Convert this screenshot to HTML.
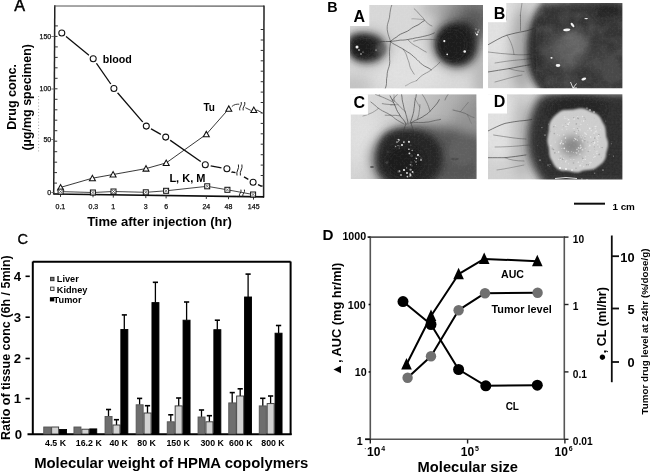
<!DOCTYPE html>
<html><head><meta charset="utf-8"><style>
html,body{margin:0;padding:0;background:#fff;}
svg{display:block;font-family:"Liberation Sans", Arial, sans-serif;}
</style></head><body>
<svg width="650" height="472" viewBox="0 0 650 472">
<rect width="650" height="472" fill="#fff"/>
<defs><filter id="soft" x="0" y="0" width="100%" height="100%"><feGaussianBlur stdDeviation="0.35"/></filter></defs>
<g filter="url(#soft)">
<g id="pA">
<text x="14.2" y="10.8" font-size="16.2" font-weight="normal" text-anchor="start" fill="#000" stroke="#000" stroke-width="0.45">A</text>
<line x1="54.8" y1="5.3" x2="53.7" y2="194.5" stroke="#222" stroke-width="1.5" />
<line x1="54.3" y1="6.0" x2="264.0" y2="6.2" stroke="#555" stroke-width="1.2" />
<line x1="264.0" y1="5.5" x2="263.6" y2="197.5" stroke="#222" stroke-width="1.5" />
<line x1="53.5" y1="194.0" x2="264.0" y2="196.9" stroke="#111" stroke-width="1.6" />
<line x1="53.7" y1="193.6" x2="56.9" y2="193.6" stroke="#333" stroke-width="1" />
<line x1="53.8" y1="183.1" x2="57.0" y2="183.1" stroke="#333" stroke-width="1" />
<line x1="53.8" y1="172.6" x2="57.0" y2="172.6" stroke="#333" stroke-width="1" />
<line x1="53.9" y1="162.2" x2="57.1" y2="162.2" stroke="#333" stroke-width="1" />
<line x1="54.0" y1="151.7" x2="57.2" y2="151.7" stroke="#333" stroke-width="1" />
<line x1="54.0" y1="141.2" x2="57.2" y2="141.2" stroke="#333" stroke-width="1" />
<line x1="54.1" y1="130.7" x2="57.3" y2="130.7" stroke="#333" stroke-width="1" />
<line x1="54.1" y1="120.2" x2="57.3" y2="120.2" stroke="#333" stroke-width="1" />
<line x1="54.2" y1="109.8" x2="57.4" y2="109.8" stroke="#333" stroke-width="1" />
<line x1="54.3" y1="99.3" x2="57.5" y2="99.3" stroke="#333" stroke-width="1" />
<line x1="54.3" y1="88.8" x2="57.5" y2="88.8" stroke="#333" stroke-width="1" />
<line x1="54.4" y1="78.3" x2="57.6" y2="78.3" stroke="#333" stroke-width="1" />
<line x1="54.4" y1="67.8" x2="57.6" y2="67.8" stroke="#333" stroke-width="1" />
<line x1="54.5" y1="57.4" x2="57.7" y2="57.4" stroke="#333" stroke-width="1" />
<line x1="54.6" y1="46.9" x2="57.8" y2="46.9" stroke="#333" stroke-width="1" />
<line x1="54.6" y1="36.4" x2="57.8" y2="36.4" stroke="#333" stroke-width="1" />
<line x1="54.7" y1="25.9" x2="57.9" y2="25.9" stroke="#333" stroke-width="1" />
<line x1="260.7" y1="186.0" x2="264.0" y2="186.0" stroke="#333" stroke-width="1" />
<line x1="260.7" y1="175.5" x2="264.0" y2="175.5" stroke="#333" stroke-width="1" />
<line x1="260.7" y1="165.1" x2="264.0" y2="165.1" stroke="#333" stroke-width="1" />
<line x1="260.7" y1="154.7" x2="264.0" y2="154.7" stroke="#333" stroke-width="1" />
<line x1="260.7" y1="144.2" x2="264.0" y2="144.2" stroke="#333" stroke-width="1" />
<line x1="260.7" y1="133.8" x2="264.0" y2="133.8" stroke="#333" stroke-width="1" />
<line x1="260.7" y1="123.4" x2="264.0" y2="123.4" stroke="#333" stroke-width="1" />
<line x1="260.7" y1="113.0" x2="264.0" y2="113.0" stroke="#333" stroke-width="1" />
<line x1="260.7" y1="102.5" x2="264.0" y2="102.5" stroke="#333" stroke-width="1" />
<line x1="260.7" y1="92.1" x2="264.0" y2="92.1" stroke="#333" stroke-width="1" />
<line x1="260.7" y1="81.7" x2="264.0" y2="81.7" stroke="#333" stroke-width="1" />
<line x1="260.7" y1="71.2" x2="264.0" y2="71.2" stroke="#333" stroke-width="1" />
<line x1="260.7" y1="60.8" x2="264.0" y2="60.8" stroke="#333" stroke-width="1" />
<line x1="260.7" y1="50.4" x2="264.0" y2="50.4" stroke="#333" stroke-width="1" />
<line x1="260.7" y1="40.0" x2="264.0" y2="40.0" stroke="#333" stroke-width="1" />
<line x1="260.7" y1="29.5" x2="264.0" y2="29.5" stroke="#333" stroke-width="1" />
<line x1="60.5" y1="194.1" x2="60.5" y2="196.9" stroke="#333" stroke-width="1" />
<line x1="93.0" y1="194.5" x2="93.0" y2="197.3" stroke="#333" stroke-width="1" />
<line x1="113.3" y1="194.8" x2="113.3" y2="197.6" stroke="#333" stroke-width="1" />
<line x1="145.8" y1="195.3" x2="145.8" y2="198.1" stroke="#333" stroke-width="1" />
<line x1="166.1" y1="195.6" x2="166.1" y2="198.4" stroke="#333" stroke-width="1" />
<line x1="206.3" y1="196.1" x2="206.3" y2="198.9" stroke="#333" stroke-width="1" />
<line x1="228.5" y1="196.4" x2="228.5" y2="199.2" stroke="#333" stroke-width="1" />
<line x1="253.5" y1="196.8" x2="253.5" y2="199.6" stroke="#333" stroke-width="1" />
<text x="51.2" y="38.9" font-size="7" font-weight="normal" text-anchor="end" fill="#111" stroke="#111" stroke-width="0.25">150</text>
<line x1="51.3" y1="36.5" x2="54.5" y2="36.5" stroke="#555" stroke-width="0.8" />
<text x="51.2" y="91.4" font-size="7" font-weight="normal" text-anchor="end" fill="#111" stroke="#111" stroke-width="0.25">100</text>
<line x1="51.3" y1="89.0" x2="54.5" y2="89.0" stroke="#555" stroke-width="0.8" />
<text x="51.2" y="141.9" font-size="7" font-weight="normal" text-anchor="end" fill="#111" stroke="#111" stroke-width="0.25">50</text>
<line x1="51.3" y1="139.5" x2="54.5" y2="139.5" stroke="#555" stroke-width="0.8" />
<text x="51.2" y="194.9" font-size="7" font-weight="normal" text-anchor="end" fill="#111" stroke="#111" stroke-width="0.25">0</text>
<line x1="51.3" y1="192.5" x2="54.5" y2="192.5" stroke="#555" stroke-width="0.8" />
<text x="60.4" y="208.6" font-size="7" font-weight="normal" text-anchor="middle" fill="#111" stroke="#111" stroke-width="0.25">0.1</text>
<text x="93.4" y="208.6" font-size="7" font-weight="normal" text-anchor="middle" fill="#111" stroke="#111" stroke-width="0.25">0.3</text>
<text x="113.2" y="208.6" font-size="7" font-weight="normal" text-anchor="middle" fill="#111" stroke="#111" stroke-width="0.25">1</text>
<text x="145.8" y="208.6" font-size="7" font-weight="normal" text-anchor="middle" fill="#111" stroke="#111" stroke-width="0.25">3</text>
<text x="166.1" y="208.6" font-size="7" font-weight="normal" text-anchor="middle" fill="#111" stroke="#111" stroke-width="0.25">6</text>
<text x="206.3" y="208.6" font-size="7" font-weight="normal" text-anchor="middle" fill="#111" stroke="#111" stroke-width="0.25">24</text>
<text x="228.5" y="208.6" font-size="7" font-weight="normal" text-anchor="middle" fill="#111" stroke="#111" stroke-width="0.25">48</text>
<text x="253.7" y="208.6" font-size="7" font-weight="normal" text-anchor="middle" fill="#111" stroke="#111" stroke-width="0.25">145</text>
<line x1="38.6" y1="96" x2="38.6" y2="152" stroke="#999" stroke-width="0.9" stroke-dasharray="1 2.2"/>
<text x="159.5" y="225.7" font-size="13.05" font-weight="bold" text-anchor="middle" fill="#000" >Time after injection (hr)</text>
<text transform="translate(15.6,96.9) rotate(-90)" font-size="12.6" font-weight="bold" text-anchor="middle">Drug conc.</text>
<text transform="translate(30.8,97.3) rotate(-90)" font-size="12.5" font-weight="bold" text-anchor="middle">(µg/mg specimen)</text>
<polyline points="61.8,32.9 93.2,58.7 113.9,88.5 146.3,126.1 165.7,137.1 205.3,164.8 226.9,168.8" stroke="#111" stroke-width="1.3" fill="none" stroke-linejoin="round" />
<polyline points="230.7,171.7 235.5,172.6" stroke="#111" stroke-width="1.4" fill="none" stroke-linejoin="round" />
<polyline points="244.0,176.9 253.1,182.2 261.7,186.4" stroke="#111" stroke-width="1.4" fill="none" stroke-linejoin="round" />
<path d="M237.0 175.5 C235.7 171.0 239.7 169.0 238.4 164.5 M240.4 175.5 C239.2 171.0 243.2 169.0 241.9 164.5" stroke="#222" stroke-width="1" fill="none"/>
<circle cx="61.8" cy="32.9" r="5.6" fill="#fff"/>
<circle cx="61.8" cy="32.9" r="3.0" fill="#fff" stroke="#111" stroke-width="1.05"/>
<circle cx="93.2" cy="58.7" r="5.6" fill="#fff"/>
<circle cx="93.2" cy="58.7" r="3.0" fill="#fff" stroke="#111" stroke-width="1.05"/>
<circle cx="113.9" cy="88.5" r="5.6" fill="#fff"/>
<circle cx="113.9" cy="88.5" r="3.0" fill="#fff" stroke="#111" stroke-width="1.05"/>
<circle cx="146.3" cy="126.1" r="5.6" fill="#fff"/>
<circle cx="146.3" cy="126.1" r="3.0" fill="#fff" stroke="#111" stroke-width="1.05"/>
<circle cx="165.7" cy="137.1" r="5.6" fill="#fff"/>
<circle cx="165.7" cy="137.1" r="3.0" fill="#fff" stroke="#111" stroke-width="1.05"/>
<circle cx="205.3" cy="164.8" r="5.6" fill="#fff"/>
<circle cx="205.3" cy="164.8" r="3.0" fill="#fff" stroke="#111" stroke-width="1.05"/>
<circle cx="226.9" cy="168.8" r="5.6" fill="#fff"/>
<circle cx="226.9" cy="168.8" r="3.0" fill="#fff" stroke="#111" stroke-width="1.05"/>
<circle cx="253.1" cy="182.2" r="5.6" fill="#fff"/>
<circle cx="253.1" cy="182.2" r="3.0" fill="#fff" stroke="#111" stroke-width="1.05"/>
<text x="102.8" y="62.6" font-size="10.7" font-weight="bold" text-anchor="start" fill="#000" >blood</text>
<polyline points="60.6,187.4 92.4,178.2 113.1,174.5 146.0,168.6 166.2,162.9 206.3,134.3 228.8,108.8" stroke="#222" stroke-width="0.9" fill="none" stroke-linejoin="round" />
<path d="M231.9 106.5 C234 104.5 236.5 104 239.2 104.2" stroke="#222" stroke-width="0.9" fill="none"/>
<polyline points="245.4,107.7 250.8,110.4" stroke="#222" stroke-width="0.9" fill="none" stroke-linejoin="round" />
<polyline points="253.8,110.0 257.7,110.4 261.9,112.7" stroke="#222" stroke-width="0.9" fill="none" stroke-linejoin="round" />
<path d="M239.8 110.4 C238.5 107.2 242.5 105.2 241.2 102.0 M243.2 110.4 C242.0 107.2 246.0 105.2 244.7 102.0" stroke="#222" stroke-width="1" fill="none"/>
<polygon points="57.6,189.9 63.6,189.9 60.6,184.5" fill="#fff" stroke="#111" stroke-width="1.05"/>
<polygon points="89.4,180.7 95.4,180.7 92.4,175.3" fill="#fff" stroke="#111" stroke-width="1.05"/>
<polygon points="110.1,177.0 116.1,177.0 113.1,171.6" fill="#fff" stroke="#111" stroke-width="1.05"/>
<polygon points="143.0,171.1 149.0,171.1 146.0,165.7" fill="#fff" stroke="#111" stroke-width="1.05"/>
<polygon points="163.2,165.4 169.2,165.4 166.2,160.0" fill="#fff" stroke="#111" stroke-width="1.05"/>
<polygon points="203.3,136.8 209.3,136.8 206.3,131.4" fill="#fff" stroke="#111" stroke-width="1.05"/>
<polygon points="225.8,111.3 231.8,111.3 228.8,105.9" fill="#fff" stroke="#111" stroke-width="1.05"/>
<polygon points="250.8,112.5 256.8,112.5 253.8,107.1" fill="#fff" stroke="#111" stroke-width="1.05"/>
<text x="203.5" y="111.4" font-size="10" font-weight="bold" text-anchor="start" fill="#000" >Tu</text>
<polyline points="60.6,191.6 92.9,192.5 113.5,191.5 145.8,192.3 166.1,190.8 207.2,186.3 227.4,189.8 253.1,194.5" stroke="#333" stroke-width="0.9" fill="none" stroke-linejoin="round" />
<path d="M239.5 196.6 C238.2 194.1 242.2 192.1 240.9 189.6 M242.9 196.6 C241.7 194.1 245.7 192.1 244.4 189.6" stroke="#222" stroke-width="1" fill="none"/>
<rect x="58.1" y="189.1" width="5" height="5" fill="#fff" stroke="#111" stroke-width="1"/>
<path d="M59.1 190.1 L62.1 193.1 M62.1 190.1 L59.1 193.1" stroke="#444" stroke-width="0.7"/>
<rect x="90.4" y="190.0" width="5" height="5" fill="#fff" stroke="#111" stroke-width="1"/>
<path d="M91.4 191.0 L94.4 194.0 M94.4 191.0 L91.4 194.0" stroke="#444" stroke-width="0.7"/>
<rect x="111.0" y="189.0" width="5" height="5" fill="#fff" stroke="#111" stroke-width="1"/>
<path d="M112.0 190.0 L115.0 193.0 M115.0 190.0 L112.0 193.0" stroke="#444" stroke-width="0.7"/>
<rect x="143.3" y="189.8" width="5" height="5" fill="#fff" stroke="#111" stroke-width="1"/>
<path d="M144.3 190.8 L147.3 193.8 M147.3 190.8 L144.3 193.8" stroke="#444" stroke-width="0.7"/>
<rect x="163.6" y="188.3" width="5" height="5" fill="#fff" stroke="#111" stroke-width="1"/>
<path d="M164.6 189.3 L167.6 192.3 M167.6 189.3 L164.6 192.3" stroke="#444" stroke-width="0.7"/>
<rect x="204.7" y="183.8" width="5" height="5" fill="#fff" stroke="#111" stroke-width="1"/>
<path d="M205.7 184.8 L208.7 187.8 M208.7 184.8 L205.7 187.8" stroke="#444" stroke-width="0.7"/>
<rect x="224.9" y="187.3" width="5" height="5" fill="#fff" stroke="#111" stroke-width="1"/>
<path d="M225.9 188.3 L228.9 191.3 M228.9 188.3 L225.9 191.3" stroke="#444" stroke-width="0.7"/>
<rect x="250.6" y="192.0" width="5" height="5" fill="#fff" stroke="#111" stroke-width="1"/>
<path d="M251.6 193.0 L254.6 196.0 M254.6 193.0 L251.6 196.0" stroke="#444" stroke-width="0.7"/>
<text x="169.4" y="181.5" font-size="11" font-weight="bold" text-anchor="start" fill="#000" >L, K, M</text>
</g>
<defs><filter id="b05" x="-60%" y="-60%" width="220%" height="220%"><feGaussianBlur stdDeviation="0.45"/></filter><filter id="b1" x="-60%" y="-60%" width="220%" height="220%"><feGaussianBlur stdDeviation="1"/></filter><filter id="b2" x="-60%" y="-60%" width="220%" height="220%"><feGaussianBlur stdDeviation="2"/></filter><filter id="b3" x="-60%" y="-60%" width="220%" height="220%"><feGaussianBlur stdDeviation="3"/></filter><filter id="b4" x="-60%" y="-60%" width="220%" height="220%"><feGaussianBlur stdDeviation="4"/></filter><filter id="b6" x="-60%" y="-60%" width="220%" height="220%"><feGaussianBlur stdDeviation="6"/></filter><filter id="b9" x="-60%" y="-60%" width="220%" height="220%"><feGaussianBlur stdDeviation="9"/></filter><filter id="grain" x="0" y="0" width="100%" height="100%"><feTurbulence type="fractalNoise" baseFrequency="0.5" numOctaves="2" seed="7"/><feColorMatrix type="matrix" values="0 0 0 0 0.5  0 0 0 0 0.5  0 0 0 0 0.5  0 0.9 0 0 -0.35"/></filter><filter id="mottle" x="0" y="0" width="100%" height="100%"><feTurbulence type="fractalNoise" baseFrequency="0.08" numOctaves="2" seed="11"/><feColorMatrix type="matrix" values="0 0 0 0 0.55  0 0 0 0 0.55  0 0 0 0 0.55  0 1.4 0 0 -0.55"/></filter><linearGradient id="bgA" x1="0" y1="0" x2="1" y2="0"><stop offset="0" stop-color="#d6d6d6"/><stop offset="0.6" stop-color="#d0d0d0"/><stop offset="1" stop-color="#c4c4c4"/></linearGradient><linearGradient id="bgC" x1="0" y1="0" x2="1" y2="0.35"><stop offset="0" stop-color="#e0e0e0"/><stop offset="0.4" stop-color="#d0d0d0"/><stop offset="0.75" stop-color="#b0b0b0"/><stop offset="1" stop-color="#8c8c8c"/></linearGradient><clipPath id="cpA"><rect x="350" y="5" width="133.0" height="83.5"/></clipPath><clipPath id="cpB"><rect x="488" y="3" width="134.4" height="85.2"/></clipPath><clipPath id="cpC"><rect x="350.6" y="94.2" width="126.0" height="84.8"/></clipPath><clipPath id="cpD"><rect x="488" y="94.2" width="134.4" height="85.2"/></clipPath></defs>
<g clip-path="url(#cpA)"><g filter="url(#b05)">
<rect x="350" y="5" width="133" height="83.5" fill="#d9d9d9"/>
<ellipse cx="410" cy="70" rx="35" ry="25" fill="#e4e4e4" opacity="0.8" filter="url(#b9)"/>
<ellipse cx="478" cy="10" rx="36" ry="22" fill="#5a5a5a" opacity="0.75" filter="url(#b9)"/>
<ellipse cx="440" cy="8" rx="20" ry="10" fill="#9a9a9a" opacity="0.5" filter="url(#b6)"/>
<ellipse cx="352" cy="86" rx="20" ry="10" fill="#a8a8a8" opacity="0.45" filter="url(#b6)"/>
<ellipse cx="483" cy="80" rx="10" ry="20" fill="#999" opacity="0.5" filter="url(#b6)"/>
<path d="M390.4 41.5 L392.3 39.9 L394.3 38.4 L396.5 37.1 L398.4 35.5 L400.5 34.2 L402.8 33.2 L405.1 32.2 L407.4 31.2 L409.5 29.8 L411.5 28.3 L413.6 27.0 L415.8 25.9 L418.1 24.9 L420.2 23.5 L422.2 21.9 L424.3 20.7" stroke="#2c2c2c" stroke-width="0.75" fill="none" opacity="0.8" stroke-linejoin="round" stroke-linecap="round" filter="url(#b05)"/>
<path d="M407.8 39.5 L409.4 41.4 L411.3 43.0 L413.3 44.5 L415.4 45.8 L417.7 46.9 L419.8 48.3 L421.9 49.6 L424.0 50.9 L426.2 52.1" stroke="#2c2c2c" stroke-width="0.49" fill="none" opacity="0.8" stroke-linejoin="round" stroke-linecap="round" filter="url(#b05)"/>
<path d="M390.4 41.5 L392.9 41.2 L395.4 40.9 L397.8 40.5 L400.3 40.1 L402.8 40.1 L405.3 39.9 L407.8 39.5 L410.2 39.0 L412.7 38.7 L415.1 38.0 L417.6 37.6 L420.0 37.2 L422.5 36.6 L424.9 36.1 L427.3 35.5 L429.7 34.8 L432.1 33.9 L434.3 32.9" stroke="#2c2c2c" stroke-width="0.70" fill="none" opacity="0.8" stroke-linejoin="round" stroke-linecap="round" filter="url(#b05)"/>
<path d="M403.2 49.2 L404.6 51.3 L405.8 53.5 L406.7 55.8 L407.4 58.2 L408.3 60.6 L409.1 62.9 L409.6 65.4 L410.4 67.7 L411.5 70.0 L412.9 72.1 L414.2 74.2" stroke="#2c2c2c" stroke-width="0.49" fill="none" opacity="0.8" stroke-linejoin="round" stroke-linecap="round" filter="url(#b05)"/>
<path d="M390.4 41.5 L392.3 43.1 L394.5 44.4 L396.7 45.5 L398.9 46.8 L401.1 47.9 L403.2 49.2 L405.4 50.5 L407.4 51.9 L409.6 53.2 L411.6 54.7 L413.4 56.4 L415.4 58.0 L417.1 59.7 L418.9 61.5 L420.7 63.2 L422.7 64.8 L424.7 66.2 L427.0 67.3 L429.2 68.4 L431.3 69.8" stroke="#2c2c2c" stroke-width="0.70" fill="none" opacity="0.8" stroke-linejoin="round" stroke-linecap="round" filter="url(#b05)"/>
<path d="M390.4 41.5 L390.3 44.0 L389.9 46.5 L389.7 49.0 L389.5 51.4 L389.5 53.9 L389.6 56.4 L389.6 58.9 L389.8 61.4 L389.6 63.9 L389.1 66.4 L388.3 68.8 L387.6 71.2 L387.2 73.6 L387.1 76.1 L386.6 78.6 L386.5 81.1 L386.5 83.6 L386.1 86.0 L385.3 88.4 L384.6 90.8" stroke="#2c2c2c" stroke-width="0.70" fill="none" opacity="0.8" stroke-linejoin="round" stroke-linecap="round" filter="url(#b05)"/>
<path d="M390.4 41.5 L389.8 39.1 L388.9 36.7 L388.2 34.4 L387.6 31.9 L387.2 29.4 L387.2 26.9 L387.5 24.5 L388.2 22.1 L388.9 19.7 L389.5 17.2 L389.7 14.7 L390.1 12.3 L390.5 9.8 L391.0 7.4 L391.8 5.0" stroke="#2c2c2c" stroke-width="0.60" fill="none" opacity="0.8" stroke-linejoin="round" stroke-linecap="round" filter="url(#b05)"/>
<path d="M390.4 41.5 L387.9 41.5 L385.4 41.4 L382.9 41.5 L380.4 41.8" stroke="#2c2c2c" stroke-width="0.80" fill="none" opacity="0.8" stroke-linejoin="round" stroke-linecap="round" filter="url(#b05)"/>
<path d="M436.0 40.0 L433.5 39.6 L431.0 39.4 L428.5 39.4 L426.0 39.4 L423.5 39.4 L421.0 39.6 L418.6 39.9 L416.2 40.6 L413.7 41.2" stroke="#2c2c2c" stroke-width="0.50" fill="none" opacity="0.8" stroke-linejoin="round" stroke-linecap="round" filter="url(#b05)"/>
<path d="M416.7 80.6 L414.4 81.5 L412.0 82.3 L409.8 83.3 L407.7 84.7 L405.4 85.8" stroke="#2c2c2c" stroke-width="0.35" fill="none" opacity="0.8" stroke-linejoin="round" stroke-linecap="round" filter="url(#b05)"/>
<path d="M440.0 62.0 L438.3 63.8 L436.5 65.6 L434.5 67.1 L432.6 68.7 L430.7 70.3 L428.6 71.7 L426.4 72.9 L424.2 74.1 L422.1 75.4 L420.2 77.0 L418.3 78.7 L416.7 80.6" stroke="#2c2c2c" stroke-width="0.50" fill="none" opacity="0.8" stroke-linejoin="round" stroke-linecap="round" filter="url(#b05)"/>
<path d="M424.3 19.8 L421.8 19.4 L419.3 19.2 L416.9 19.0 L414.4 18.8 L411.9 18.8" stroke="#2c2c2c" stroke-width="0.35" fill="none" opacity="0.8" stroke-linejoin="round" stroke-linecap="round" filter="url(#b05)"/>
<path d="M432.0 26.0 L429.8 24.9 L427.8 23.4 L425.9 21.7 L424.3 19.8 L422.9 17.7 L421.1 15.9 L419.4 14.2 L417.8 12.2 L416.0 10.5 L414.2 8.8" stroke="#2c2c2c" stroke-width="0.50" fill="none" opacity="0.8" stroke-linejoin="round" stroke-linecap="round" filter="url(#b05)"/>
<ellipse cx="368" cy="48" rx="22" ry="17" fill="#6a6a6a" opacity="0.5" filter="url(#b6)"/>
<path d="M352 35 C360 32 371 33 378 37 C384 41 385 47 383 54 C380 60 372 63 363 62 C355 61 350 57 349 50 C348 44 348 38 352 35 Z" fill="#262626" opacity="1" filter="url(#b3)"/>
<ellipse cx="381" cy="49" rx="5" ry="6" fill="#666" opacity="0.7" filter="url(#b2)"/>
<ellipse cx="362" cy="48" rx="10" ry="9" fill="#1c1c1c" opacity="1" filter="url(#b2)"/>
<ellipse cx="458" cy="42" rx="28" ry="28" fill="#5a5a5a" opacity="0.55" filter="url(#b6)"/>
<ellipse cx="474" cy="24" rx="14" ry="16" fill="#4a4a4a" opacity="0.7" filter="url(#b6)"/>
<path d="M440 30 C446 22 458 20 467 23 C475 27 478 36 477 47 C476 58 469 65 458 66 C447 66 439 60 436 50 C434 42 436 35 440 30 Z" fill="#232323" opacity="1" filter="url(#b3)"/>
<ellipse cx="452" cy="45" rx="13" ry="14" fill="#1a1a1a" opacity="1" filter="url(#b3)"/>
<circle cx="357" cy="47" r="1.5" fill="#fff" opacity="0.95"/>
<circle cx="359" cy="50" r="0.8" fill="#fff" opacity="0.95"/>
<circle cx="361" cy="54" r="0.7" fill="#fff" opacity="0.95"/>
<circle cx="363" cy="52" r="0.5" fill="#fff" opacity="0.95"/>
<circle cx="376" cy="50" r="0.6" fill="#fff" opacity="0.95"/>
<circle cx="444.3" cy="41.1" r="1.1" fill="#fff" opacity="0.95"/>
<circle cx="464.7" cy="51.5" r="1.3" fill="#fff" opacity="0.95"/>
<circle cx="447.2" cy="54.4" r="0.8" fill="#fff" opacity="0.95"/>
<circle cx="478" cy="32" r="0.8" fill="#fff" opacity="0.95"/>
<circle cx="477" cy="34.5" r="1.1" fill="#fff" opacity="0.95"/>
<circle cx="479" cy="30" r="0.6" fill="#fff" opacity="0.95"/>
<circle cx="476" cy="29" r="0.5" fill="#fff" opacity="0.95"/>
<circle cx="475.5" cy="33" r="0.5" fill="#fff" opacity="0.95"/>
</g>
<rect x="350" y="5" width="133.0" height="83.5" filter="url(#grain)" opacity="0.2"/>
</g>
<rect x="350" y="5" width="19.3" height="21" fill="#fff"/>
<text x="359.2" y="21.6" font-size="16" font-weight="bold" text-anchor="middle" fill="#000" >A</text>
<g clip-path="url(#cpB)"><g filter="url(#b05)">
<rect x="488" y="3" width="134.4" height="85.2" fill="#d2d2d2"/>
<ellipse cx="498" cy="30" rx="22" ry="40" fill="#e4e4e4" opacity="0.9" filter="url(#b6)"/>
<ellipse cx="500" cy="75" rx="18" ry="20" fill="#d8d8d8" opacity="0.6" filter="url(#b6)"/>
<ellipse cx="522" cy="50" rx="12" ry="42" fill="#9a9a9a" opacity="0.7" filter="url(#b6)"/>
<path d="M488 44.8 C495 41 501 37 507 35.2 C513 33.5 519 32.2 524 31.4 C528 30.5 531 29.5 534 28.6" stroke="#3a3a3a" stroke-width="0.75" fill="none" opacity="0.85" stroke-linecap="round" filter="url(#b05)"/>
<path d="M488 72 C495 71 502 69.5 509 68.6 C515 67.5 522 66 530 64.8" stroke="#3a3a3a" stroke-width="0.75" fill="none" opacity="0.85" stroke-linecap="round" filter="url(#b05)"/>
<path d="M488 52 C496 53 505 54 514 54.5 C520 55 526 55 532 54" stroke="#3a3a3a" stroke-width="0.5" fill="none" opacity="0.85" stroke-linecap="round" filter="url(#b05)"/>
<path d="M495 63 C502 62 510 60.5 518 60 C524 59.5 528 59 532 58.5" stroke="#3a3a3a" stroke-width="0.45" fill="none" opacity="0.85" stroke-linecap="round" filter="url(#b05)"/>
<path d="M520.3 15.2 C520.5 20 520.4 25 520.3 30.5" stroke="#3a3a3a" stroke-width="0.6" fill="none" opacity="0.85" stroke-linecap="round" filter="url(#b05)"/>
<path d="M520.3 15.2 C521 10 521.5 6 522 3" stroke="#3a3a3a" stroke-width="0.45" fill="none" opacity="0.85" stroke-linecap="round" filter="url(#b05)"/>
<path d="M505 3 C505.5 8 506 14 506.5 20" stroke="#3a3a3a" stroke-width="0.4" fill="none" opacity="0.85" stroke-linecap="round" filter="url(#b05)"/>
<path d="M509 68.6 C513 70 518 71 524 71.5" stroke="#3a3a3a" stroke-width="0.45" fill="none" opacity="0.85" stroke-linecap="round" filter="url(#b05)"/>
<path d="M507 35.2 C510 40 513 46 514 54.5" stroke="#3a3a3a" stroke-width="0.45" fill="none" opacity="0.85" stroke-linecap="round" filter="url(#b05)"/>
<path d="M495 82 C503 80 512 77 522 75" stroke="#3a3a3a" stroke-width="0.45" fill="none" opacity="0.85" stroke-linecap="round" filter="url(#b05)"/>
<path d="M548 3 C556 0 585 -2 612 0 L630 0 L630 95 L548 95 C538 86 530 74 529 60 C528 44 530 30 536 18 C539 11 542 6 548 3 Z" fill="#343434" opacity="1" filter="url(#b4)"/>
<path d="M548 4 C538 14 532 30 532 50 C532 68 538 82 548 92" stroke="#1c1c1c" stroke-width="9" fill="none" opacity="0.7" filter="url(#b3)"/>
<ellipse cx="568" cy="50" rx="20" ry="18" fill="#646464" opacity="0.85" filter="url(#b6)"/>
<ellipse cx="578" cy="40" rx="10" ry="9" fill="#7a7a7a" opacity="0.5" filter="url(#b4)"/>
<rect x="536" y="3" width="88" height="86" filter="url(#mottle)" opacity="0.22"/>
<ellipse cx="600" cy="62" rx="10" ry="12" fill="#505050" opacity="0.6" filter="url(#b4)"/>
<ellipse cx="614" cy="70" rx="8" ry="14" fill="#5a5a5a" opacity="0.55" filter="url(#b3)"/>
<ellipse cx="560" cy="82" rx="14" ry="6" fill="#4a4a4a" opacity="0.6" filter="url(#b4)"/>
<ellipse cx="608" cy="12" rx="14" ry="8" fill="#1c1c1c" opacity="0.7" filter="url(#b4)"/>
<ellipse cx="566.8" cy="29.9" rx="3.6" ry="1.3" fill="#f6f6f6" transform="rotate(-5 566.8 29.9)"/>
<ellipse cx="572.5" cy="25" rx="2.6" ry="1.2" fill="#f6f6f6" transform="rotate(50 572.5 25)"/>
<ellipse cx="558" cy="65.5" rx="2.3" ry="1.4" fill="#f6f6f6" transform="rotate(0 558 65.5)"/>
<ellipse cx="583.8" cy="79" rx="2.5" ry="1.2" fill="#f6f6f6" transform="rotate(-20 583.8 79)"/>
<ellipse cx="586.2" cy="18.6" rx="1.8" ry="0.7" fill="#f6f6f6" transform="rotate(0 586.2 18.6)"/>
<ellipse cx="551.5" cy="57.8" rx="1.1" ry="0.9" fill="#f6f6f6" transform="rotate(0 551.5 57.8)"/>
<path d="M570.5 82 L573 88 L576.5 83.5 M573 88 L577 88" stroke="#eee" stroke-width="0.9" fill="none"/>
</g>
<rect x="488" y="3" width="134.4" height="85.2" filter="url(#grain)" opacity="0.2"/>
</g>
<rect x="488" y="3" width="18.3" height="19.2" fill="#fff"/>
<text x="499.5" y="18.7" font-size="16" font-weight="bold" text-anchor="middle" fill="#000" >B</text>
<g clip-path="url(#cpC)"><g filter="url(#b05)">
<rect x="350.6" y="94.2" width="126.0" height="84.8" fill="url(#bgC)"/>
<ellipse cx="476" cy="150" rx="22" ry="45" fill="#8a8a8a" opacity="0.6" filter="url(#b9)"/>
<ellipse cx="365" cy="140" rx="18" ry="30" fill="#e6e6e6" opacity="0.7" filter="url(#b9)"/>
<path d="M400.2 115.9 L397.7 115.6 L395.2 115.3 L392.7 115.4 L390.2 115.1 L387.7 115.3 L385.2 115.2" stroke="#333" stroke-width="0.52" fill="none" opacity="0.85" stroke-linejoin="round" stroke-linecap="round" filter="url(#b05)"/>
<path d="M394.7 104.8 L392.2 104.5 L389.7 104.5 L387.2 104.3 L384.7 104.0 L382.3 103.6" stroke="#333" stroke-width="0.52" fill="none" opacity="0.85" stroke-linejoin="round" stroke-linecap="round" filter="url(#b05)"/>
<path d="M380.0 96.1 L379.0 93.8 L377.8 91.6 L377.0 89.3 L376.5 86.8" stroke="#333" stroke-width="0.37" fill="none" opacity="0.85" stroke-linejoin="round" stroke-linecap="round" filter="url(#b05)"/>
<path d="M393.5 102.5 L391.4 101.3 L389.2 100.1 L386.9 99.1 L384.6 98.0 L382.3 97.1 L380.0 96.1 L377.6 95.3 L375.4 94.3" stroke="#333" stroke-width="0.52" fill="none" opacity="0.85" stroke-linejoin="round" stroke-linecap="round" filter="url(#b05)"/>
<path d="M392.5 100.3 L393.8 98.2 L395.4 96.3 L397.3 94.6 L398.9 92.7 L400.9 91.1 L402.7 89.4 L404.3 87.5" stroke="#333" stroke-width="0.52" fill="none" opacity="0.85" stroke-linejoin="round" stroke-linecap="round" filter="url(#b05)"/>
<path d="M406.0 124.0 L404.8 121.8 L403.4 119.7 L401.7 117.9 L400.2 115.9 L399.0 113.7 L397.6 111.7 L396.5 109.4 L395.6 107.1 L394.7 104.8 L393.5 102.5 L392.5 100.3 L391.2 98.1 L390.1 95.9" stroke="#333" stroke-width="0.75" fill="none" opacity="0.85" stroke-linejoin="round" stroke-linecap="round" filter="url(#b05)"/>
<path d="M398.2 104.8 L395.7 104.6 L393.2 104.8 L390.8 105.3" stroke="#333" stroke-width="0.35" fill="none" opacity="0.85" stroke-linejoin="round" stroke-linecap="round" filter="url(#b05)"/>
<path d="M394.7 101.2 L394.2 98.8 L394.0 96.3 L394.0 93.8 L393.9 91.3" stroke="#333" stroke-width="0.35" fill="none" opacity="0.85" stroke-linejoin="round" stroke-linecap="round" filter="url(#b05)"/>
<path d="M405.3 111.8 L403.5 110.1 L401.8 108.3 L399.9 106.7 L398.2 104.8 L396.5 103.0 L394.7 101.2 L392.7 99.8" stroke="#333" stroke-width="0.49" fill="none" opacity="0.85" stroke-linejoin="round" stroke-linecap="round" filter="url(#b05)"/>
<path d="M408.0 124.0 L407.8 121.5 L407.2 119.1 L406.6 116.6 L405.9 114.2 L405.3 111.8 L404.4 109.5 L403.8 107.1 L403.3 104.6 L402.7 102.2 L402.2 99.7 L402.0 97.2 L401.6 94.8 L401.3 92.3" stroke="#333" stroke-width="0.70" fill="none" opacity="0.85" stroke-linejoin="round" stroke-linecap="round" filter="url(#b05)"/>
<path d="M410.0 123.0 L411.0 120.7 L411.8 118.3 L412.6 116.0 L413.2 113.5 L413.8 111.1 L414.0 108.6 L414.4 106.2 L414.6 103.7 L414.9 101.2 L415.5 98.7 L416.1 96.3 L416.3 93.8 L416.3 91.3" stroke="#333" stroke-width="0.70" fill="none" opacity="0.85" stroke-linejoin="round" stroke-linecap="round" filter="url(#b05)"/>
<path d="M419.8 107.1 L418.5 105.0 L417.3 102.8 L416.1 100.6 L414.6 98.6" stroke="#333" stroke-width="0.35" fill="none" opacity="0.85" stroke-linejoin="round" stroke-linecap="round" filter="url(#b05)"/>
<path d="M417.6 119.4 L418.1 117.0 L418.8 114.6 L419.1 112.1 L419.5 109.6 L419.8 107.1 L419.9 104.6" stroke="#333" stroke-width="0.49" fill="none" opacity="0.85" stroke-linejoin="round" stroke-linecap="round" filter="url(#b05)"/>
<path d="M421.6 93.2 L422.6 90.9 L423.7 88.6 L424.4 86.3 L425.0 83.8" stroke="#333" stroke-width="0.35" fill="none" opacity="0.85" stroke-linejoin="round" stroke-linecap="round" filter="url(#b05)"/>
<path d="M420.3 91.1 L421.5 88.9 L422.7 86.7 L423.8 84.4 L424.8 82.2" stroke="#333" stroke-width="0.35" fill="none" opacity="0.85" stroke-linejoin="round" stroke-linecap="round" filter="url(#b05)"/>
<path d="M430.0 111.3 L429.3 108.9 L428.5 106.5 L427.6 104.2 L426.5 101.9 L425.4 99.7 L424.3 97.4 L422.9 95.4 L421.6 93.2 L420.3 91.1" stroke="#333" stroke-width="0.49" fill="none" opacity="0.85" stroke-linejoin="round" stroke-linecap="round" filter="url(#b05)"/>
<path d="M411.0 123.0 L413.1 121.6 L415.3 120.4 L417.6 119.4 L419.8 118.4 L422.1 117.2 L424.1 115.8 L426.3 114.5 L428.3 113.0 L430.0 111.3 L431.7 109.4 L433.4 107.6 L435.1 105.7 L436.7 103.8 L438.1 101.8 L439.3 99.6" stroke="#333" stroke-width="0.70" fill="none" opacity="0.85" stroke-linejoin="round" stroke-linecap="round" filter="url(#b05)"/>
<path d="M378.5 108.4 L376.5 109.9 L374.5 111.3 L372.3 112.6 L370.0 113.6 L367.7 114.5 L365.3 115.4 L362.9 116.0" stroke="#333" stroke-width="0.42" fill="none" opacity="0.85" stroke-linejoin="round" stroke-linecap="round" filter="url(#b05)"/>
<path d="M404.0 124.0 L401.8 122.8 L399.6 121.5 L397.5 120.3 L395.4 118.9 L393.5 117.3 L391.5 115.8 L389.4 114.5 L387.2 113.2 L385.0 112.1 L382.7 111.0 L380.6 109.7 L378.5 108.4 L376.5 106.8 L374.8 105.0 L372.8 103.5 L370.8 102.0" stroke="#333" stroke-width="0.60" fill="none" opacity="0.85" stroke-linejoin="round" stroke-linecap="round" filter="url(#b05)"/>
<path d="M411.0 123.0 L413.5 122.6 L416.0 122.4 L418.4 122.5 L420.9 122.5 L423.4 122.5 L425.9 122.2 L428.4 122.0 L430.9 121.5 L433.3 120.9 L435.7 120.3 L438.2 119.9 L440.6 119.4" stroke="#333" stroke-width="0.60" fill="none" opacity="0.85" stroke-linejoin="round" stroke-linecap="round" filter="url(#b05)"/>
<path d="M460.3 111.8 L462.0 110.0 L463.5 108.0 L465.1 106.1 L466.7 104.2 L468.3 102.3" stroke="#333" stroke-width="0.35" fill="none" opacity="0.85" stroke-linejoin="round" stroke-linecap="round" filter="url(#b05)"/>
<path d="M467.3 114.5 L468.4 116.7 L469.5 119.0 L470.3 121.3 L471.6 123.5" stroke="#333" stroke-width="0.35" fill="none" opacity="0.85" stroke-linejoin="round" stroke-linecap="round" filter="url(#b05)"/>
<path d="M453.0 110.0 L455.4 110.6 L457.9 111.2 L460.3 111.8 L462.7 112.6 L465.0 113.3 L467.3 114.5 L469.4 115.7 L471.7 116.8 L474.1 117.5" stroke="#333" stroke-width="0.50" fill="none" opacity="0.85" stroke-linejoin="round" stroke-linecap="round" filter="url(#b05)"/>
<path d="M445.0 100.0 L446.0 97.7 L447.3 95.6 L448.7 93.5 L450.0 91.4" stroke="#333" stroke-width="0.50" fill="none" opacity="0.85" stroke-linejoin="round" stroke-linecap="round" filter="url(#b05)"/>
<path d="M406.0 124.0 L405.0 126.3 L404.2 128.7 L403.4 131.0 L403.0 133.5" stroke="#333" stroke-width="0.70" fill="none" opacity="0.85" stroke-linejoin="round" stroke-linecap="round" filter="url(#b05)"/>
<path d="M411.0 123.0 L411.7 125.4 L412.5 127.8 L413.4 130.1 L414.1 132.5" stroke="#333" stroke-width="0.70" fill="none" opacity="0.85" stroke-linejoin="round" stroke-linecap="round" filter="url(#b05)"/>
<ellipse cx="410" cy="158" rx="40" ry="30" fill="#5a5a5a" opacity="0.75" filter="url(#b6)"/>
<path d="M392 132 C410 124 440 126 460 130 C472 132 480 136 482 140 L482 185 L385 185 C378 170 380 145 392 132 Z" fill="#505050" opacity="0.9" filter="url(#b6)"/>
<ellipse cx="462" cy="152" rx="14" ry="14" fill="#6a6a6a" opacity="0.6" filter="url(#b4)"/>
<ellipse cx="470" cy="125" rx="12" ry="10" fill="#9a9a9a" opacity="0.5" filter="url(#b6)"/>
<path d="M385 135 C395 128 415 128 428 134 C440 140 444 152 442 164 C440 176 432 184 418 186 C402 188 388 184 380 174 C374 165 375 145 385 135 Z" fill="#262626" opacity="1" filter="url(#b3)"/>
<ellipse cx="405" cy="162" rx="18" ry="15" fill="#1e1e1e" opacity="1" filter="url(#b3)"/>
<g opacity="0.85"><circle cx="398.2" cy="139.4" r="0.57" fill="#fff"/><circle cx="403.9" cy="142.1" r="0.89" fill="#fff"/><circle cx="398.0" cy="145.5" r="0.50" fill="#fff"/><circle cx="408.9" cy="141.7" r="0.87" fill="#fff"/><circle cx="408.9" cy="149.3" r="0.79" fill="#fff"/><circle cx="397.0" cy="142.1" r="0.83" fill="#ddd"/><circle cx="395.6" cy="146.5" r="0.72" fill="#aaa"/><circle cx="398.5" cy="141.5" r="0.50" fill="#aaa"/><circle cx="399.3" cy="147.9" r="0.52" fill="#aaa"/></g>
<g opacity="0.85"><circle cx="416.0" cy="161.9" r="0.79" fill="#aaa"/><circle cx="416.4" cy="158.5" r="0.81" fill="#fff"/><circle cx="416.4" cy="164.4" r="0.41" fill="#ddd"/><circle cx="419.9" cy="156.1" r="0.41" fill="#fff"/><circle cx="410.5" cy="164.7" r="0.77" fill="#fff"/><circle cx="415.9" cy="157.1" r="0.42" fill="#fff"/><circle cx="409.4" cy="153.4" r="0.89" fill="#fff"/><circle cx="414.6" cy="160.8" r="0.46" fill="#aaa"/><circle cx="412.1" cy="150.3" r="0.58" fill="#fff"/></g>
<g opacity="0.9"><circle cx="410.7" cy="175.2" r="0.67" fill="#ddd"/><circle cx="407.4" cy="176.7" r="0.83" fill="#ddd"/><circle cx="410.3" cy="169.7" r="0.87" fill="#aaa"/><circle cx="406.6" cy="167.9" r="0.72" fill="#aaa"/><circle cx="410.9" cy="169.7" r="0.87" fill="#aaa"/><circle cx="399.4" cy="171.2" r="0.99" fill="#ddd"/><circle cx="410.8" cy="175.0" r="0.64" fill="#fff"/><circle cx="410.1" cy="174.0" r="0.87" fill="#fff"/><circle cx="413.2" cy="172.9" r="0.48" fill="#aaa"/><circle cx="412.6" cy="171.9" r="0.89" fill="#fff"/></g>
<g opacity="0.6"><circle cx="399.5" cy="146.0" r="1.12" fill="#555"/><circle cx="412.0" cy="176.4" r="0.77" fill="#555"/><circle cx="404.8" cy="142.8" r="0.67" fill="#4a4a4a"/><circle cx="386.8" cy="162.6" r="1.36" fill="#555"/><circle cx="411.7" cy="155.9" r="1.38" fill="#555"/><circle cx="410.7" cy="145.3" r="0.94" fill="#555"/><circle cx="411.4" cy="162.4" r="1.15" fill="#555"/><circle cx="411.9" cy="165.6" r="0.90" fill="#555"/><circle cx="411.1" cy="164.8" r="1.00" fill="#4a4a4a"/><circle cx="421.3" cy="158.6" r="1.34" fill="#4a4a4a"/><circle cx="398.4" cy="171.8" r="1.16" fill="#555"/><circle cx="387.9" cy="152.0" r="1.00" fill="#4a4a4a"/></g>
<circle cx="399" cy="140" r="0.8" fill="#fff" opacity="0.95"/>
<circle cx="402" cy="145" r="1.0" fill="#fff" opacity="0.95"/>
<circle cx="409" cy="142" r="0.8" fill="#fff" opacity="0.95"/>
<circle cx="418" cy="155" r="1.0" fill="#fff" opacity="0.95"/>
<circle cx="421" cy="160" r="0.8" fill="#fff" opacity="0.95"/>
<circle cx="404" cy="170" r="1.1" fill="#fff" opacity="0.95"/>
<circle cx="407" cy="173" r="0.9" fill="#fff" opacity="0.95"/>
<circle cx="401" cy="175" r="0.8" fill="#fff" opacity="0.95"/>
<circle cx="410" cy="176" r="0.7" fill="#fff" opacity="0.95"/>
<ellipse cx="455" cy="159" rx="4" ry="1.2" fill="#444" opacity="0.6"/>
<ellipse cx="372" cy="167" rx="2" ry="1" fill="#333" opacity="0.7"/>
</g>
<rect x="350.6" y="94.2" width="126.0" height="84.8" filter="url(#grain)" opacity="0.2"/>
</g>
<rect x="350.6" y="94.2" width="17.3" height="20.3" fill="#fff"/>
<text x="359.2" y="108.2" font-size="16" font-weight="bold" text-anchor="middle" fill="#000" >C</text>
<g clip-path="url(#cpD)"><g filter="url(#b05)">
<rect x="488" y="94.2" width="134.4" height="85.2" fill="#d2d2d2"/>
<ellipse cx="498" cy="125" rx="22" ry="35" fill="#e4e4e4" opacity="0.9" filter="url(#b6)"/>
<ellipse cx="522" cy="140" rx="10" ry="40" fill="#a8a8a8" opacity="0.6" filter="url(#b6)"/>
<path d="M488 131 C494 128 500 125 505 123.4 C512 122 518 121 524 120.6 C527 120.2 529.5 120 531.7 119.6" stroke="#3a3a3a" stroke-width="0.75" fill="none" opacity="0.85" stroke-linecap="round" filter="url(#b05)"/>
<path d="M488 157.7 C495 157.7 500 157.7 505 157.7 C512 157 519 156 526 154.9" stroke="#3a3a3a" stroke-width="0.75" fill="none" opacity="0.85" stroke-linecap="round" filter="url(#b05)"/>
<path d="M493.6 135 C500 136 507 137 514 138 C518 138.4 520 138.7 526 139" stroke="#3a3a3a" stroke-width="0.5" fill="none" opacity="0.85" stroke-linecap="round" filter="url(#b05)"/>
<path d="M495 147 C503 147 511 146.5 518 146 C522 145.6 526 145 530 145" stroke="#3a3a3a" stroke-width="0.45" fill="none" opacity="0.85" stroke-linecap="round" filter="url(#b05)"/>
<path d="M507 95 C507 103 507 111 507 119" stroke="#3a3a3a" stroke-width="0.4" fill="none" opacity="0.85" stroke-linecap="round" filter="url(#b05)"/>
<path d="M521 95 C521 103 521 111 521 120" stroke="#3a3a3a" stroke-width="0.5" fill="none" opacity="0.85" stroke-linecap="round" filter="url(#b05)"/>
<path d="M505 157.7 C510 160 516 161 524 161" stroke="#3a3a3a" stroke-width="0.45" fill="none" opacity="0.85" stroke-linecap="round" filter="url(#b05)"/>
<path d="M497 170 C505 169 514 167 524 165" stroke="#3a3a3a" stroke-width="0.4" fill="none" opacity="0.85" stroke-linecap="round" filter="url(#b05)"/>
<path d="M545 94 C560 92 590 92 612 93 L630 93 L630 185 L545 185 C537 176 530 164 528 150 C526 134 529 118 534 106 C537 100 540 96 545 94 Z" fill="#2e2e2e" opacity="1" filter="url(#b4)"/>
<ellipse cx="577" cy="108" rx="26" ry="12" fill="#222" opacity="0.7" filter="url(#b4)"/>
<path d="M558 113 C563 108 570 111 576 109 C582 107 588 110 592 112 C598 113 601 118 603 123 C607 128 605 134 607 139 C610 145 606 151 606 156 C605 162 600 165 596 168 C591 171 585 169 580 172 C574 174 569 170 563 171 C557 170 554 166 552 161 C548 156 550 150 548 145 C546 139 549 134 549 128 C549 121 553 117 558 113 Z" fill="#cecece" opacity="1" filter="url(#b1)"/>
<ellipse cx="580" cy="136" rx="20" ry="18" fill="#d0d0d0" opacity="0.6" filter="url(#b4)"/>
<ellipse cx="572" cy="146" rx="11" ry="10" fill="#747474" opacity="0.8" filter="url(#b4)"/>
<g opacity="0.75"><circle cx="556.8" cy="152.5" r="0.40" fill="#f0f0f0"/><circle cx="593.8" cy="141.4" r="0.57" fill="#fafafa"/><circle cx="574.8" cy="138.4" r="0.62" fill="#f0f0f0"/><circle cx="598.5" cy="135.6" r="0.62" fill="#fafafa"/><circle cx="587.9" cy="142.1" r="0.61" fill="#a0a0a0"/><circle cx="589.2" cy="150.1" r="0.40" fill="#fafafa"/><circle cx="570.9" cy="159.5" r="0.41" fill="#fafafa"/><circle cx="568.3" cy="151.7" r="0.62" fill="#f0f0f0"/><circle cx="581.4" cy="121.0" r="0.39" fill="#fafafa"/><circle cx="576.4" cy="123.9" r="0.87" fill="#a0a0a0"/><circle cx="589.4" cy="162.3" r="0.51" fill="#e4e4e4"/><circle cx="596.2" cy="136.9" r="0.44" fill="#fafafa"/><circle cx="578.7" cy="130.6" r="0.55" fill="#a0a0a0"/><circle cx="577.2" cy="124.1" r="0.43" fill="#e4e4e4"/><circle cx="577.5" cy="117.0" r="0.85" fill="#f0f0f0"/><circle cx="568.6" cy="163.8" r="0.51" fill="#f0f0f0"/><circle cx="564.4" cy="136.7" r="0.56" fill="#a0a0a0"/><circle cx="559.5" cy="135.2" r="0.44" fill="#fafafa"/><circle cx="560.9" cy="155.9" r="0.52" fill="#fafafa"/><circle cx="593.0" cy="134.3" r="0.81" fill="#a0a0a0"/><circle cx="580.5" cy="135.8" r="0.39" fill="#fafafa"/><circle cx="565.6" cy="118.3" r="0.40" fill="#fafafa"/><circle cx="591.3" cy="142.5" r="0.43" fill="#a0a0a0"/><circle cx="557.6" cy="134.6" r="0.67" fill="#e4e4e4"/><circle cx="569.0" cy="167.0" r="0.35" fill="#a0a0a0"/><circle cx="561.3" cy="162.0" r="0.37" fill="#f0f0f0"/><circle cx="573.8" cy="117.7" r="0.68" fill="#a0a0a0"/><circle cx="593.8" cy="157.3" r="0.56" fill="#fafafa"/><circle cx="581.4" cy="138.4" r="0.42" fill="#a0a0a0"/><circle cx="577.8" cy="118.1" r="0.86" fill="#a0a0a0"/><circle cx="594.1" cy="138.5" r="0.38" fill="#fafafa"/><circle cx="574.1" cy="119.1" r="0.75" fill="#fafafa"/><circle cx="585.4" cy="159.4" r="0.64" fill="#f0f0f0"/><circle cx="577.1" cy="131.2" r="0.56" fill="#f0f0f0"/><circle cx="599.1" cy="154.6" r="0.86" fill="#a0a0a0"/><circle cx="562.1" cy="129.6" r="0.65" fill="#e4e4e4"/><circle cx="593.6" cy="154.5" r="0.53" fill="#e4e4e4"/><circle cx="583.8" cy="166.6" r="0.78" fill="#e4e4e4"/><circle cx="585.2" cy="119.1" r="0.62" fill="#a0a0a0"/><circle cx="566.8" cy="129.3" r="0.69" fill="#e4e4e4"/><circle cx="594.3" cy="146.9" r="0.55" fill="#a0a0a0"/><circle cx="560.6" cy="159.1" r="0.63" fill="#fafafa"/><circle cx="564.5" cy="116.8" r="0.75" fill="#e4e4e4"/><circle cx="583.7" cy="159.2" r="0.89" fill="#e4e4e4"/><circle cx="593.4" cy="141.2" r="0.50" fill="#a0a0a0"/><circle cx="563.2" cy="126.8" r="0.49" fill="#a0a0a0"/><circle cx="563.5" cy="158.5" r="0.68" fill="#f0f0f0"/><circle cx="569.9" cy="156.7" r="0.79" fill="#a0a0a0"/><circle cx="580.6" cy="136.9" r="0.37" fill="#f0f0f0"/><circle cx="564.3" cy="118.3" r="0.60" fill="#e4e4e4"/><circle cx="582.8" cy="161.4" r="0.71" fill="#e4e4e4"/><circle cx="592.7" cy="159.8" r="0.40" fill="#f0f0f0"/><circle cx="585.3" cy="133.5" r="0.81" fill="#f0f0f0"/><circle cx="589.1" cy="146.6" r="0.53" fill="#e4e4e4"/><circle cx="599.5" cy="147.1" r="0.59" fill="#f0f0f0"/><circle cx="563.8" cy="134.8" r="0.59" fill="#fafafa"/><circle cx="555.4" cy="125.5" r="0.51" fill="#f0f0f0"/><circle cx="568.2" cy="124.1" r="0.87" fill="#fafafa"/><circle cx="580.0" cy="154.2" r="0.80" fill="#e4e4e4"/><circle cx="566.0" cy="126.6" r="0.63" fill="#fafafa"/><circle cx="580.4" cy="165.4" r="0.90" fill="#f0f0f0"/><circle cx="562.2" cy="125.2" r="0.45" fill="#f0f0f0"/><circle cx="597.9" cy="145.8" r="0.69" fill="#a0a0a0"/><circle cx="594.0" cy="137.4" r="0.73" fill="#e4e4e4"/><circle cx="576.4" cy="133.5" r="0.81" fill="#f0f0f0"/><circle cx="566.7" cy="151.1" r="0.61" fill="#f0f0f0"/><circle cx="595.3" cy="128.5" r="0.70" fill="#e4e4e4"/><circle cx="593.6" cy="144.8" r="0.56" fill="#f0f0f0"/><circle cx="594.5" cy="149.3" r="0.42" fill="#a0a0a0"/><circle cx="577.4" cy="129.6" r="0.56" fill="#fafafa"/><circle cx="583.6" cy="121.0" r="0.73" fill="#fafafa"/><circle cx="594.7" cy="138.1" r="0.87" fill="#a0a0a0"/><circle cx="580.5" cy="145.4" r="0.83" fill="#e4e4e4"/><circle cx="582.5" cy="149.7" r="0.89" fill="#e4e4e4"/><circle cx="555.7" cy="130.9" r="0.41" fill="#f0f0f0"/><circle cx="584.9" cy="139.7" r="0.67" fill="#e4e4e4"/><circle cx="590.7" cy="137.1" r="0.76" fill="#fafafa"/><circle cx="589.7" cy="165.0" r="0.71" fill="#e4e4e4"/><circle cx="577.5" cy="140.1" r="0.61" fill="#f0f0f0"/><circle cx="566.3" cy="149.2" r="0.78" fill="#a0a0a0"/><circle cx="590.0" cy="145.7" r="0.49" fill="#e4e4e4"/><circle cx="565.6" cy="161.2" r="0.60" fill="#fafafa"/><circle cx="577.0" cy="149.6" r="0.54" fill="#fafafa"/><circle cx="569.5" cy="146.6" r="0.60" fill="#a0a0a0"/><circle cx="580.9" cy="124.4" r="0.64" fill="#f0f0f0"/><circle cx="592.2" cy="141.2" r="0.37" fill="#e4e4e4"/><circle cx="561.8" cy="148.6" r="0.49" fill="#f0f0f0"/><circle cx="573.9" cy="159.4" r="0.52" fill="#fafafa"/><circle cx="589.8" cy="145.3" r="0.70" fill="#fafafa"/><circle cx="567.1" cy="118.2" r="0.48" fill="#fafafa"/><circle cx="597.0" cy="151.2" r="0.63" fill="#f0f0f0"/><circle cx="576.0" cy="168.2" r="0.74" fill="#a0a0a0"/><circle cx="598.9" cy="136.8" r="0.43" fill="#f0f0f0"/><circle cx="585.5" cy="156.6" r="0.78" fill="#e4e4e4"/><circle cx="600.6" cy="137.4" r="0.38" fill="#a0a0a0"/><circle cx="587.5" cy="124.2" r="0.37" fill="#fafafa"/><circle cx="591.6" cy="130.6" r="0.44" fill="#fafafa"/><circle cx="571.4" cy="151.8" r="0.49" fill="#e4e4e4"/><circle cx="582.6" cy="135.7" r="0.46" fill="#f0f0f0"/><circle cx="560.2" cy="158.2" r="0.71" fill="#a0a0a0"/><circle cx="558.4" cy="159.2" r="0.48" fill="#fafafa"/><circle cx="573.5" cy="163.0" r="0.80" fill="#a0a0a0"/><circle cx="602.4" cy="147.6" r="0.69" fill="#a0a0a0"/><circle cx="555.2" cy="142.1" r="0.54" fill="#f0f0f0"/><circle cx="580.0" cy="165.7" r="0.58" fill="#f0f0f0"/><circle cx="568.2" cy="120.2" r="0.78" fill="#fafafa"/><circle cx="574.0" cy="168.6" r="0.43" fill="#f0f0f0"/><circle cx="588.9" cy="135.3" r="0.36" fill="#e4e4e4"/><circle cx="571.6" cy="156.1" r="0.42" fill="#a0a0a0"/><circle cx="586.6" cy="164.8" r="0.82" fill="#a0a0a0"/><circle cx="582.3" cy="140.3" r="0.65" fill="#f0f0f0"/><circle cx="588.0" cy="151.5" r="0.53" fill="#a0a0a0"/><circle cx="574.0" cy="117.6" r="0.37" fill="#f0f0f0"/><circle cx="584.1" cy="117.2" r="0.53" fill="#a0a0a0"/><circle cx="588.3" cy="164.8" r="0.68" fill="#a0a0a0"/><circle cx="589.8" cy="128.4" r="0.87" fill="#fafafa"/><circle cx="575.8" cy="139.2" r="0.77" fill="#fafafa"/><circle cx="577.8" cy="141.5" r="0.57" fill="#a0a0a0"/><circle cx="578.3" cy="162.1" r="0.72" fill="#fafafa"/><circle cx="581.0" cy="147.4" r="0.79" fill="#f0f0f0"/><circle cx="599.5" cy="154.2" r="0.66" fill="#a0a0a0"/><circle cx="583.7" cy="138.0" r="0.45" fill="#f0f0f0"/><circle cx="590.4" cy="162.6" r="0.89" fill="#e4e4e4"/><circle cx="578.6" cy="151.0" r="0.68" fill="#e4e4e4"/><circle cx="553.8" cy="126.8" r="0.81" fill="#a0a0a0"/><circle cx="573.7" cy="152.3" r="0.45" fill="#fafafa"/><circle cx="585.2" cy="148.2" r="0.51" fill="#f0f0f0"/><circle cx="571.3" cy="143.6" r="0.45" fill="#a0a0a0"/><circle cx="567.4" cy="126.3" r="0.46" fill="#f0f0f0"/><circle cx="568.8" cy="119.7" r="0.63" fill="#fafafa"/><circle cx="581.5" cy="137.8" r="0.55" fill="#e4e4e4"/><circle cx="597.1" cy="136.8" r="0.60" fill="#f0f0f0"/><circle cx="574.2" cy="131.6" r="0.64" fill="#a0a0a0"/><circle cx="582.1" cy="157.0" r="0.61" fill="#a0a0a0"/><circle cx="595.0" cy="156.5" r="0.75" fill="#f0f0f0"/><circle cx="574.0" cy="128.5" r="0.66" fill="#f0f0f0"/><circle cx="561.4" cy="142.2" r="0.80" fill="#e4e4e4"/><circle cx="593.1" cy="141.3" r="0.66" fill="#a0a0a0"/><circle cx="600.8" cy="129.8" r="0.47" fill="#fafafa"/><circle cx="582.0" cy="163.5" r="0.47" fill="#f0f0f0"/><circle cx="584.8" cy="140.7" r="0.83" fill="#a0a0a0"/><circle cx="554.8" cy="152.8" r="0.88" fill="#a0a0a0"/><circle cx="573.9" cy="140.8" r="0.53" fill="#f0f0f0"/><circle cx="599.1" cy="145.4" r="0.41" fill="#e4e4e4"/><circle cx="585.1" cy="136.8" r="0.75" fill="#e4e4e4"/><circle cx="552.2" cy="148.2" r="0.69" fill="#a0a0a0"/><circle cx="594.1" cy="133.2" r="0.84" fill="#e4e4e4"/><circle cx="595.3" cy="126.5" r="0.83" fill="#f0f0f0"/><circle cx="577.5" cy="128.7" r="0.70" fill="#a0a0a0"/><circle cx="591.2" cy="130.7" r="0.63" fill="#f0f0f0"/><circle cx="597.8" cy="141.7" r="0.77" fill="#f0f0f0"/><circle cx="596.4" cy="131.0" r="0.86" fill="#e4e4e4"/><circle cx="558.6" cy="151.9" r="0.75" fill="#fafafa"/><circle cx="578.5" cy="147.9" r="0.79" fill="#e4e4e4"/><circle cx="579.9" cy="129.9" r="0.65" fill="#f0f0f0"/><circle cx="588.9" cy="155.6" r="0.42" fill="#e4e4e4"/><circle cx="574.0" cy="167.0" r="0.49" fill="#e4e4e4"/><circle cx="588.5" cy="151.2" r="0.55" fill="#a0a0a0"/><circle cx="590.9" cy="162.5" r="0.69" fill="#e4e4e4"/><circle cx="594.5" cy="142.8" r="0.88" fill="#fafafa"/><circle cx="596.9" cy="132.2" r="0.63" fill="#e4e4e4"/><circle cx="550.8" cy="145.6" r="0.73" fill="#f0f0f0"/><circle cx="595.9" cy="151.8" r="0.42" fill="#fafafa"/><circle cx="580.2" cy="148.3" r="0.78" fill="#f0f0f0"/><circle cx="576.4" cy="155.3" r="0.57" fill="#a0a0a0"/><circle cx="576.5" cy="154.8" r="0.40" fill="#a0a0a0"/><circle cx="578.6" cy="136.8" r="0.81" fill="#a0a0a0"/><circle cx="582.5" cy="116.5" r="0.64" fill="#f0f0f0"/><circle cx="593.4" cy="144.5" r="0.56" fill="#e4e4e4"/><circle cx="563.1" cy="143.8" r="0.79" fill="#fafafa"/><circle cx="596.5" cy="126.2" r="0.57" fill="#e4e4e4"/><circle cx="595.6" cy="131.7" r="0.62" fill="#f0f0f0"/><circle cx="569.4" cy="122.5" r="0.75" fill="#f0f0f0"/><circle cx="586.2" cy="134.3" r="0.64" fill="#fafafa"/><circle cx="556.8" cy="127.5" r="0.37" fill="#a0a0a0"/><circle cx="582.9" cy="141.7" r="0.50" fill="#fafafa"/><circle cx="590.1" cy="150.2" r="0.42" fill="#fafafa"/><circle cx="584.6" cy="132.4" r="0.54" fill="#e4e4e4"/><circle cx="597.8" cy="145.0" r="0.83" fill="#f0f0f0"/><circle cx="597.8" cy="139.2" r="0.55" fill="#f0f0f0"/><circle cx="585.9" cy="133.1" r="0.72" fill="#e4e4e4"/><circle cx="566.2" cy="143.7" r="0.42" fill="#a0a0a0"/><circle cx="560.4" cy="142.6" r="0.38" fill="#e4e4e4"/><circle cx="562.7" cy="159.2" r="0.84" fill="#a0a0a0"/><circle cx="560.4" cy="143.6" r="0.79" fill="#fafafa"/><circle cx="575.7" cy="147.4" r="0.42" fill="#a0a0a0"/><circle cx="576.7" cy="152.9" r="0.72" fill="#fafafa"/><circle cx="579.9" cy="129.1" r="0.65" fill="#e4e4e4"/><circle cx="554.3" cy="133.6" r="0.82" fill="#a0a0a0"/><circle cx="579.0" cy="126.5" r="0.39" fill="#a0a0a0"/><circle cx="566.7" cy="160.4" r="0.59" fill="#e4e4e4"/><circle cx="596.9" cy="153.5" r="0.72" fill="#f0f0f0"/><circle cx="587.9" cy="130.6" r="0.58" fill="#e4e4e4"/><circle cx="592.9" cy="134.1" r="0.72" fill="#fafafa"/><circle cx="594.8" cy="132.1" r="0.53" fill="#e4e4e4"/><circle cx="565.5" cy="138.1" r="0.76" fill="#fafafa"/><circle cx="564.3" cy="148.3" r="0.85" fill="#fafafa"/><circle cx="561.6" cy="140.7" r="0.51" fill="#fafafa"/><circle cx="565.6" cy="161.9" r="0.52" fill="#f0f0f0"/><circle cx="596.9" cy="138.2" r="0.81" fill="#e4e4e4"/></g>
<g opacity="0.6"><circle cx="574.9" cy="153.6" r="0.63" fill="#aaa"/><circle cx="575.5" cy="152.5" r="0.53" fill="#ccc"/><circle cx="587.4" cy="179.2" r="0.48" fill="#888"/><circle cx="592.7" cy="128.0" r="0.50" fill="#aaa"/><circle cx="611.9" cy="141.7" r="0.35" fill="#888"/><circle cx="570.5" cy="111.8" r="0.46" fill="#ccc"/><circle cx="581.9" cy="179.1" r="0.74" fill="#ccc"/><circle cx="549.4" cy="166.3" r="0.50" fill="#888"/><circle cx="591.1" cy="138.6" r="0.60" fill="#ccc"/><circle cx="590.7" cy="129.5" r="0.48" fill="#ccc"/><circle cx="567.4" cy="125.8" r="0.43" fill="#888"/><circle cx="565.5" cy="141.9" r="0.71" fill="#ccc"/><circle cx="550.1" cy="131.5" r="0.73" fill="#aaa"/><circle cx="578.6" cy="118.8" r="0.51" fill="#888"/><circle cx="552.2" cy="149.6" r="0.68" fill="#aaa"/><circle cx="550.0" cy="156.7" r="0.32" fill="#888"/><circle cx="576.9" cy="149.2" r="0.66" fill="#ccc"/><circle cx="573.6" cy="117.7" r="0.44" fill="#888"/><circle cx="593.5" cy="169.4" r="0.42" fill="#aaa"/><circle cx="574.0" cy="144.9" r="0.39" fill="#ccc"/><circle cx="553.5" cy="149.6" r="0.77" fill="#888"/><circle cx="550.1" cy="164.6" r="0.55" fill="#aaa"/><circle cx="587.0" cy="179.7" r="0.80" fill="#ccc"/><circle cx="609.1" cy="154.5" r="0.44" fill="#aaa"/><circle cx="554.3" cy="143.2" r="0.54" fill="#ccc"/><circle cx="564.7" cy="155.8" r="0.52" fill="#ccc"/><circle cx="548.6" cy="124.3" r="0.74" fill="#888"/><circle cx="562.7" cy="170.0" r="0.62" fill="#888"/><circle cx="594.2" cy="118.1" r="0.44" fill="#888"/><circle cx="537.3" cy="145.6" r="0.43" fill="#aaa"/><circle cx="555.3" cy="135.8" r="0.79" fill="#ccc"/><circle cx="582.9" cy="158.5" r="0.77" fill="#888"/><circle cx="598.9" cy="134.4" r="0.59" fill="#888"/><circle cx="601.3" cy="147.4" r="0.47" fill="#888"/><circle cx="588.6" cy="131.8" r="0.38" fill="#ccc"/><circle cx="594.7" cy="173.3" r="0.70" fill="#aaa"/><circle cx="611.5" cy="143.8" r="0.69" fill="#888"/><circle cx="601.6" cy="157.8" r="0.39" fill="#888"/><circle cx="613.5" cy="156.1" r="0.57" fill="#ccc"/><circle cx="586.3" cy="118.0" r="0.60" fill="#ccc"/><circle cx="568.1" cy="120.7" r="0.50" fill="#888"/><circle cx="541.9" cy="127.6" r="0.64" fill="#ccc"/><circle cx="561.2" cy="156.7" r="0.68" fill="#ccc"/><circle cx="588.5" cy="135.9" r="0.39" fill="#aaa"/><circle cx="576.0" cy="136.5" r="0.39" fill="#ccc"/><circle cx="584.9" cy="137.6" r="0.74" fill="#aaa"/><circle cx="565.3" cy="123.4" r="0.40" fill="#888"/><circle cx="559.9" cy="142.3" r="0.37" fill="#ccc"/><circle cx="562.9" cy="141.1" r="0.49" fill="#ccc"/><circle cx="605.8" cy="121.0" r="0.53" fill="#aaa"/></g>
<circle cx="590" cy="110" r="0.8" fill="#fff" opacity="0.95"/>
<circle cx="594" cy="112" r="0.7" fill="#fff" opacity="0.95"/>
<circle cx="587" cy="108" r="0.6" fill="#fff" opacity="0.95"/>
<circle cx="560" cy="168" r="1.0" fill="#fff" opacity="0.95"/>
<circle cx="566" cy="169" r="0.9" fill="#fff" opacity="0.95"/>
<circle cx="572" cy="170" r="0.8" fill="#fff" opacity="0.95"/>
<circle cx="545" cy="135" r="0.6" fill="#fff" opacity="0.95"/>
<circle cx="540" cy="160" r="0.6" fill="#fff" opacity="0.95"/>
<circle cx="548" cy="165" r="0.5" fill="#fff" opacity="0.95"/>
<circle cx="603" cy="170" r="0.6" fill="#fff" opacity="0.95"/>
<path d="M555 178.5 Q566 176.5 577 178.5" stroke="#ddd" stroke-width="1" fill="none"/>
</g>
<rect x="488" y="94.2" width="134.4" height="85.2" filter="url(#grain)" opacity="0.2"/>
</g>
<rect x="488" y="94.2" width="19" height="19.3" fill="#fff"/>
<text x="499.6" y="106.5" font-size="16" font-weight="bold" text-anchor="middle" fill="#000" >D</text>
<line x1="574.0" y1="203.7" x2="605.0" y2="203.7" stroke="#111" stroke-width="2" />
<text x="612.4" y="210.0" font-size="9.9" font-weight="bold" text-anchor="start" fill="#000" >1 cm</text>
<text x="327.2" y="12.0" font-size="14.3" font-weight="bold" text-anchor="start" fill="#000" >B</text>
<g id="pC">
<text x="17.4" y="244.0" font-size="14.6" font-weight="normal" text-anchor="start" fill="#000" stroke="#000" stroke-width="0.35">C</text>
<line x1="32.8" y1="261.5" x2="32.8" y2="435.0" stroke="#000" stroke-width="2" />
<line x1="32.8" y1="261.7" x2="290.6" y2="261.7" stroke="#000" stroke-width="2" />
<line x1="290.6" y1="261.5" x2="290.6" y2="435.0" stroke="#000" stroke-width="2" />
<line x1="27.5" y1="434.2" x2="291.6" y2="434.2" stroke="#000" stroke-width="2" />
<line x1="25.5" y1="276.3" x2="29.8" y2="276.3" stroke="#000" stroke-width="1.6" />
<text x="17.5" y="280.9" font-size="13.2" font-weight="bold" text-anchor="middle" fill="#000" >4</text>
<line x1="25.5" y1="317.2" x2="29.8" y2="317.2" stroke="#000" stroke-width="1.6" />
<text x="17.5" y="321.8" font-size="13.2" font-weight="bold" text-anchor="middle" fill="#000" >3</text>
<line x1="25.5" y1="358.5" x2="29.8" y2="358.5" stroke="#000" stroke-width="1.6" />
<text x="17.5" y="363.1" font-size="13.2" font-weight="bold" text-anchor="middle" fill="#000" >2</text>
<line x1="25.5" y1="398.6" x2="29.8" y2="398.6" stroke="#000" stroke-width="1.6" />
<text x="17.5" y="403.2" font-size="13.2" font-weight="bold" text-anchor="middle" fill="#000" >1</text>
<text x="18.5" y="438.5" font-size="13.2" font-weight="bold" text-anchor="middle" fill="#000" >0</text>
<text transform="translate(9.5,347.6) rotate(-90)" font-size="12.5" font-weight="bold" text-anchor="middle">Ratio of tissue conc (6h / 5min)</text>
<rect x="50.6" y="277.3" width="3.4" height="3.4" fill="#777" stroke="#222" stroke-width="0.9"/>
<rect x="50.6" y="287.1" width="3.4" height="3.4" fill="#eee" stroke="#333" stroke-width="0.9"/>
<rect x="49.9" y="297.2" width="4.4" height="4.2" fill="#000"/>
<text x="56.8" y="282.4" font-size="9.2" font-weight="bold" text-anchor="start" fill="#000" >Liver</text>
<text x="56.8" y="292.6" font-size="9.2" font-weight="bold" text-anchor="start" fill="#000" >Kidney</text>
<text x="53.6" y="302.6" font-size="9.2" font-weight="bold" text-anchor="start" fill="#000" >Tumor</text>
<rect x="43.75" y="427.0" width="7.00" height="7.0" fill="#6e6e6e" stroke="#555" stroke-width="0.9"/>
<rect x="51.65" y="427.0" width="7.00" height="7.0" fill="#d2d2d2" stroke="#333" stroke-width="0.9"/>
<rect x="59.55" y="429.5" width="7.00" height="4.5" fill="#000" stroke="#000" stroke-width="0.9"/>
<rect x="73.95" y="427.0" width="7.00" height="7.0" fill="#6e6e6e" stroke="#555" stroke-width="0.9"/>
<rect x="81.85" y="429.2" width="7.00" height="4.8" fill="#d2d2d2" stroke="#333" stroke-width="0.9"/>
<rect x="89.75" y="428.9" width="7.00" height="5.1" fill="#000" stroke="#000" stroke-width="0.9"/>
<line x1="108.5" y1="416.5" x2="108.5" y2="409.5" stroke="#000" stroke-width="1.3" />
<line x1="106.0" y1="409.5" x2="111.1" y2="409.5" stroke="#000" stroke-width="1.6" />
<rect x="105.05" y="416.5" width="7.00" height="17.5" fill="#6e6e6e" stroke="#555" stroke-width="0.9"/>
<line x1="116.5" y1="425.0" x2="116.5" y2="419.7" stroke="#000" stroke-width="1.3" />
<line x1="113.9" y1="419.7" x2="119.0" y2="419.7" stroke="#000" stroke-width="1.6" />
<rect x="112.95" y="425.0" width="7.00" height="9.0" fill="#d2d2d2" stroke="#333" stroke-width="0.9"/>
<line x1="124.3" y1="329.5" x2="124.3" y2="314.9" stroke="#000" stroke-width="1.3" />
<line x1="121.8" y1="314.9" x2="126.9" y2="314.9" stroke="#000" stroke-width="1.6" />
<rect x="120.85" y="329.5" width="7.00" height="104.5" fill="#000" stroke="#000" stroke-width="0.9"/>
<line x1="139.6" y1="404.8" x2="139.6" y2="398.4" stroke="#000" stroke-width="1.3" />
<line x1="137.0" y1="398.4" x2="142.2" y2="398.4" stroke="#000" stroke-width="1.6" />
<rect x="136.15" y="404.8" width="7.00" height="29.2" fill="#6e6e6e" stroke="#555" stroke-width="0.9"/>
<line x1="147.5" y1="413.0" x2="147.5" y2="405.7" stroke="#000" stroke-width="1.3" />
<line x1="144.9" y1="405.7" x2="150.1" y2="405.7" stroke="#000" stroke-width="1.6" />
<rect x="144.05" y="413.0" width="7.00" height="21.0" fill="#d2d2d2" stroke="#333" stroke-width="0.9"/>
<line x1="155.4" y1="302.6" x2="155.4" y2="282.3" stroke="#000" stroke-width="1.3" />
<line x1="152.8" y1="282.3" x2="158.0" y2="282.3" stroke="#000" stroke-width="1.6" />
<rect x="151.95" y="302.6" width="7.00" height="131.4" fill="#000" stroke="#000" stroke-width="0.9"/>
<line x1="170.8" y1="421.8" x2="170.8" y2="414.8" stroke="#000" stroke-width="1.3" />
<line x1="168.2" y1="414.8" x2="173.3" y2="414.8" stroke="#000" stroke-width="1.6" />
<rect x="167.25" y="421.8" width="7.00" height="12.2" fill="#6e6e6e" stroke="#555" stroke-width="0.9"/>
<line x1="178.7" y1="405.9" x2="178.7" y2="398.0" stroke="#000" stroke-width="1.3" />
<line x1="176.1" y1="398.0" x2="181.2" y2="398.0" stroke="#000" stroke-width="1.6" />
<rect x="175.15" y="405.9" width="7.00" height="28.1" fill="#d2d2d2" stroke="#333" stroke-width="0.9"/>
<line x1="186.6" y1="320.2" x2="186.6" y2="302.0" stroke="#000" stroke-width="1.3" />
<line x1="184.0" y1="302.0" x2="189.2" y2="302.0" stroke="#000" stroke-width="1.6" />
<rect x="183.05" y="320.2" width="7.00" height="113.8" fill="#000" stroke="#000" stroke-width="0.9"/>
<line x1="201.5" y1="417.0" x2="201.5" y2="410.0" stroke="#000" stroke-width="1.3" />
<line x1="198.9" y1="410.0" x2="204.1" y2="410.0" stroke="#000" stroke-width="1.6" />
<rect x="198.05" y="417.0" width="7.00" height="17.0" fill="#6e6e6e" stroke="#555" stroke-width="0.9"/>
<line x1="209.4" y1="421.8" x2="209.4" y2="415.7" stroke="#000" stroke-width="1.3" />
<line x1="206.8" y1="415.7" x2="212.0" y2="415.7" stroke="#000" stroke-width="1.6" />
<rect x="205.95" y="421.8" width="7.00" height="12.2" fill="#d2d2d2" stroke="#333" stroke-width="0.9"/>
<line x1="217.3" y1="329.7" x2="217.3" y2="320.2" stroke="#000" stroke-width="1.3" />
<line x1="214.8" y1="320.2" x2="219.9" y2="320.2" stroke="#000" stroke-width="1.6" />
<rect x="213.85" y="329.7" width="7.00" height="104.3" fill="#000" stroke="#000" stroke-width="0.9"/>
<line x1="232.2" y1="402.9" x2="232.2" y2="392.6" stroke="#000" stroke-width="1.3" />
<line x1="229.7" y1="392.6" x2="234.8" y2="392.6" stroke="#000" stroke-width="1.6" />
<rect x="228.75" y="402.9" width="7.00" height="31.1" fill="#6e6e6e" stroke="#555" stroke-width="0.9"/>
<line x1="240.2" y1="396.0" x2="240.2" y2="388.8" stroke="#000" stroke-width="1.3" />
<line x1="237.6" y1="388.8" x2="242.8" y2="388.8" stroke="#000" stroke-width="1.6" />
<rect x="236.65" y="396.0" width="7.00" height="38.0" fill="#d2d2d2" stroke="#333" stroke-width="0.9"/>
<line x1="248.1" y1="297.0" x2="248.1" y2="274.1" stroke="#000" stroke-width="1.3" />
<line x1="245.5" y1="274.1" x2="250.7" y2="274.1" stroke="#000" stroke-width="1.6" />
<rect x="244.55" y="297.0" width="7.00" height="137.0" fill="#000" stroke="#000" stroke-width="0.9"/>
<line x1="262.8" y1="405.9" x2="262.8" y2="398.3" stroke="#000" stroke-width="1.3" />
<line x1="260.1" y1="398.3" x2="265.4" y2="398.3" stroke="#000" stroke-width="1.6" />
<rect x="259.25" y="405.9" width="7.00" height="28.1" fill="#6e6e6e" stroke="#555" stroke-width="0.9"/>
<line x1="270.6" y1="403.6" x2="270.6" y2="396.0" stroke="#000" stroke-width="1.3" />
<line x1="268.0" y1="396.0" x2="273.2" y2="396.0" stroke="#000" stroke-width="1.6" />
<rect x="267.15" y="403.6" width="7.00" height="30.4" fill="#d2d2d2" stroke="#333" stroke-width="0.9"/>
<line x1="278.6" y1="333.2" x2="278.6" y2="325.5" stroke="#000" stroke-width="1.3" />
<line x1="275.9" y1="325.5" x2="281.2" y2="325.5" stroke="#000" stroke-width="1.6" />
<rect x="275.05" y="333.2" width="7.00" height="100.8" fill="#000" stroke="#000" stroke-width="0.9"/>
<text x="55.5" y="446.4" font-size="8.8" font-weight="bold" text-anchor="middle" fill="#000" >4.5 K</text>
<text x="88.8" y="446.4" font-size="8.8" font-weight="bold" text-anchor="middle" fill="#000" >16.2 K</text>
<text x="118.7" y="446.4" font-size="8.8" font-weight="bold" text-anchor="middle" fill="#000" >40 K</text>
<text x="146.6" y="446.4" font-size="8.8" font-weight="bold" text-anchor="middle" fill="#000" >80 K</text>
<text x="178.2" y="446.4" font-size="8.8" font-weight="bold" text-anchor="middle" fill="#000" >150 K</text>
<text x="212.2" y="446.4" font-size="8.8" font-weight="bold" text-anchor="middle" fill="#000" >300 K</text>
<text x="240.8" y="446.4" font-size="8.8" font-weight="bold" text-anchor="middle" fill="#000" >600 K</text>
<text x="273.0" y="446.4" font-size="8.8" font-weight="bold" text-anchor="middle" fill="#000" >800 K</text>
<text x="171.2" y="468.0" font-size="14.9" font-weight="bold" text-anchor="middle" fill="#000" >Molecular weight of HPMA copolymers</text>
</g>
<g id="pD">
<text x="322.6" y="240.4" font-size="15.2" font-weight="bold" text-anchor="start" fill="#000" >D</text>
<line x1="370.3" y1="236.5" x2="370.3" y2="440.0" stroke="#555" stroke-width="1.6" />
<line x1="369.5" y1="237.1" x2="565.0" y2="237.1" stroke="#555" stroke-width="1.6" />
<line x1="564.3" y1="236.5" x2="564.3" y2="440.0" stroke="#555" stroke-width="1.6" />
<line x1="365.0" y1="439.3" x2="565.0" y2="439.3" stroke="#555" stroke-width="1.6" />
<line x1="367.6" y1="237.1" x2="370.3" y2="237.1" stroke="#111" stroke-width="1.6" />
<text x="366.2" y="239.9" font-size="10.7" font-weight="bold" text-anchor="end" fill="#000" >1000</text>
<line x1="368.6" y1="304.5" x2="370.3" y2="304.5" stroke="#111" stroke-width="1.6" />
<text x="365.7" y="308.6" font-size="10.7" font-weight="bold" text-anchor="end" fill="#000" >100</text>
<line x1="368.6" y1="371.9" x2="370.3" y2="371.9" stroke="#111" stroke-width="1.6" />
<text x="366.7" y="375.5" font-size="10.7" font-weight="bold" text-anchor="end" fill="#000" >10</text>
<line x1="365.2" y1="439.3" x2="370.3" y2="439.3" stroke="#111" stroke-width="1.6" />
<text x="362.6" y="444.6" font-size="10.7" font-weight="bold" text-anchor="end" fill="#000" >1</text>
<line x1="564.3" y1="237.1" x2="568.5" y2="237.1" stroke="#222" stroke-width="1.4" />
<text x="572.8" y="242.8" font-size="10.2" font-weight="bold" text-anchor="start" fill="#000" >10</text>
<line x1="564.3" y1="304.5" x2="568.5" y2="304.5" stroke="#222" stroke-width="1.4" />
<text x="572.8" y="310.2" font-size="10.2" font-weight="bold" text-anchor="start" fill="#000" >1</text>
<line x1="564.3" y1="371.9" x2="568.5" y2="371.9" stroke="#222" stroke-width="1.4" />
<text x="572.8" y="377.6" font-size="10.2" font-weight="bold" text-anchor="start" fill="#000" >0.1</text>
<line x1="564.3" y1="439.3" x2="568.5" y2="439.3" stroke="#222" stroke-width="1.4" />
<text x="572.8" y="445.0" font-size="10.2" font-weight="bold" text-anchor="start" fill="#000" >0.01</text>
<line x1="370.3" y1="439.3" x2="370.3" y2="443.5" stroke="#222" stroke-width="1.4" />
<line x1="467.6" y1="439.3" x2="467.6" y2="443.5" stroke="#222" stroke-width="1.4" />
<line x1="564.9" y1="439.3" x2="564.9" y2="443.5" stroke="#222" stroke-width="1.4" />
<text x="367.0" y="455.6" font-size="12.0" font-weight="bold" text-anchor="start" fill="#000" >10<tspan font-size="7" dy="-4.2" dx="0.8">4</tspan></text>
<text x="460.8" y="455.6" font-size="12.0" font-weight="bold" text-anchor="start" fill="#000" >10<tspan font-size="7" dy="-4.2" dx="0.8">5</tspan></text>
<text x="554.6" y="455.6" font-size="12.0" font-weight="bold" text-anchor="start" fill="#000" >10<tspan font-size="7" dy="-4.2" dx="0.8">6</tspan></text>
<circle cx="365.3" cy="448.6" r="0.6" fill="#555"/>
<text x="467.8" y="472.0" font-size="14.7" font-weight="bold" text-anchor="middle" fill="#000" >Molecular size</text>
<text transform="translate(341,319.2) rotate(-90)" font-size="12.8" font-weight="bold" text-anchor="middle">&#9650;, AUC (mg hr/ml)</text>
<line x1="611.8" y1="235.5" x2="611.8" y2="382.2" stroke="#111" stroke-width="1.8" />
<line x1="611.8" y1="256.2" x2="619.0" y2="256.2" stroke="#111" stroke-width="1.8" />
<text x="634.5" y="261.6" font-size="12.8" font-weight="bold" text-anchor="end" fill="#000" >10</text>
<line x1="611.8" y1="308.5" x2="619.0" y2="308.5" stroke="#111" stroke-width="1.8" />
<text x="634.5" y="313.9" font-size="12.8" font-weight="bold" text-anchor="end" fill="#000" >5</text>
<line x1="611.8" y1="362.0" x2="619.0" y2="362.0" stroke="#111" stroke-width="1.8" />
<text x="634.5" y="367.4" font-size="12.8" font-weight="bold" text-anchor="end" fill="#000" >0</text>
<text transform="translate(605.5,324) rotate(-90)" font-size="12.6" font-weight="bold" text-anchor="middle">&#9679;, CL (ml/hr)</text>
<text transform="translate(647.6,331.5) rotate(-90)" font-size="9.8" font-weight="bold" text-anchor="middle">Tumor drug level at 24hr (%/dose/g)</text>
<polyline points="406.5,364.5 431.0,316.0 458.6,274.2 484.2,258.9 537.3,261.2" stroke="#000" stroke-width="2" fill="none" stroke-linejoin="round" />
<polyline points="407.6,377.8 431.0,356.2 458.6,310.2 485.0,293.2 537.6,292.7" stroke="#000" stroke-width="2" fill="none" stroke-linejoin="round" />
<polyline points="403.0,301.6 431.0,324.5 458.6,369.5 485.8,385.8 537.3,385.2" stroke="#000" stroke-width="2" fill="none" stroke-linejoin="round" />
<polygon points="401.2,369.5 411.8,369.5 406.5,358.0" fill="#000"/>
<polygon points="425.7,321.0 436.3,321.0 431.0,309.5" fill="#000"/>
<polygon points="453.3,279.2 463.9,279.2 458.6,267.7" fill="#000"/>
<polygon points="478.9,263.9 489.5,263.9 484.2,252.4" fill="#000"/>
<polygon points="532.0,266.2 542.6,266.2 537.3,254.7" fill="#000"/>
<circle cx="407.6" cy="377.8" r="5.2" fill="#707070"/>
<circle cx="431" cy="356.2" r="5.2" fill="#707070"/>
<circle cx="458.6" cy="310.2" r="5.2" fill="#707070"/>
<circle cx="485" cy="293.2" r="5.2" fill="#707070"/>
<circle cx="537.6" cy="292.7" r="5.2" fill="#707070"/>
<circle cx="403" cy="301.6" r="5.5" fill="#000"/>
<circle cx="431" cy="324.5" r="5.5" fill="#000"/>
<circle cx="458.6" cy="369.5" r="5.5" fill="#000"/>
<circle cx="485.8" cy="385.8" r="5.5" fill="#000"/>
<circle cx="537.3" cy="385.2" r="5.5" fill="#000"/>
<text x="512.5" y="277.6" font-size="10.6" font-weight="bold" text-anchor="middle" fill="#000" >AUC</text>
<text x="521.6" y="313.3" font-size="10.9" font-weight="bold" text-anchor="middle" fill="#000" >Tumor level</text>
<text x="512.3" y="409.5" font-size="10" font-weight="bold" text-anchor="middle" fill="#000" >CL</text>
</g>
</g>
</svg>
</body></html>
